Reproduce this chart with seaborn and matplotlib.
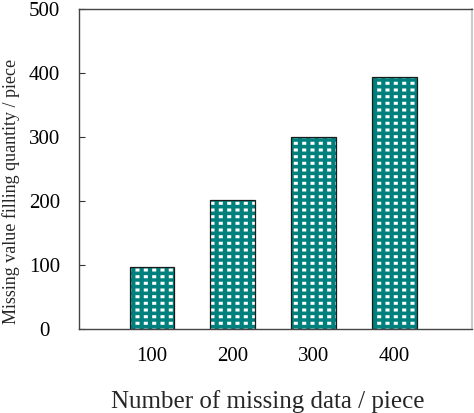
import numpy as np
import matplotlib
matplotlib.use("Agg")
import matplotlib.pyplot as plt
import matplotlib.hatch as mhatch
from matplotlib.path import Path
import seaborn as sns

# data
missing_counts = ["100", "200", "300", "400"]
filled_counts = [97, 202, 300, 394]

bar_color = "#00807c"


# white square dots laid out on a regular grid (the reference fill pattern)
class SquareDots(mhatch.HatchPatternBase):
    def __init__(self, hatch, density):
        n = hatch.count(".")
        self.cols = 12 * n
        self.rows = 15 * n
        self.num_vertices = self.cols * self.rows * 5
        self.filled = True

    def set_vertices_and_codes(self, vertices, codes):
        w, h = 0.039, 0.029
        k = 0
        for i in range(self.cols):
            for j in range(self.rows):
                x = (i + 0.5) / self.cols
                y = (j + 0.5) / self.rows
                vertices[k:k + 5] = [(x - w / 2, y - h / 2), (x + w / 2, y - h / 2),
                                     (x + w / 2, y + h / 2), (x - w / 2, y + h / 2),
                                     (x - w / 2, y - h / 2)]
                codes[k] = Path.MOVETO
                codes[k + 1:k + 4] = Path.LINETO
                codes[k + 4] = Path.CLOSEPOLY
                k += 5


mhatch._hatch_types = [SquareDots]

sns.set_style("white")
plt.rcParams["font.family"] = ["Liberation Serif", "DejaVu Serif"]
plt.rcParams["hatch.color"] = "white"
plt.rcParams["hatch.linewidth"] = 0.1

fig = plt.figure(figsize=(4.74, 4.13), dpi=100)
ax = fig.add_axes([79 / 474, 84 / 413, 393 / 474, 320 / 413])

# fill with pattern, then outline
sns.barplot(x=missing_counts, y=filled_counts, color=bar_color, width=0.55,
            edgecolor="white", linewidth=0, hatch=".", saturation=1, ax=ax)
sns.barplot(x=missing_counts, y=filled_counts, fill=False, width=0.55,
            edgecolor="#1a1a1a", linewidth=0.9, ax=ax)

ax.set_xlim(-0.9, 3.96)
ax.set_ylim(0, 500)
ax.set_yticks([0, 100, 200, 300, 400, 500])

ax.tick_params(axis="both", direction="in", length=4, width=0.8, colors="#333333",
               labelcolor="black", labelsize=15)
ax.tick_params(axis="y", pad=25, left=True)
ax.tick_params(axis="x", pad=13, bottom=True)
for lab in ax.get_yticklabels():
    lab.set_horizontalalignment("center")

for side in ["left", "bottom", "top"]:
    ax.spines[side].set_color("#444444")
    ax.spines[side].set_linewidth(1.0)
ax.spines["right"].set_color("#cccccc")
ax.spines["right"].set_linewidth(1.5)

ax.set_xlabel("Number of missing data / piece", fontsize=18)
ax.set_ylabel("Missing value filling quantity / piece", fontsize=13)
ax.xaxis.set_label_coords(0.48, -0.19)
ax.yaxis.set_label_coords(-0.15, 0.43)

fig.savefig("out.png", dpi=100)
